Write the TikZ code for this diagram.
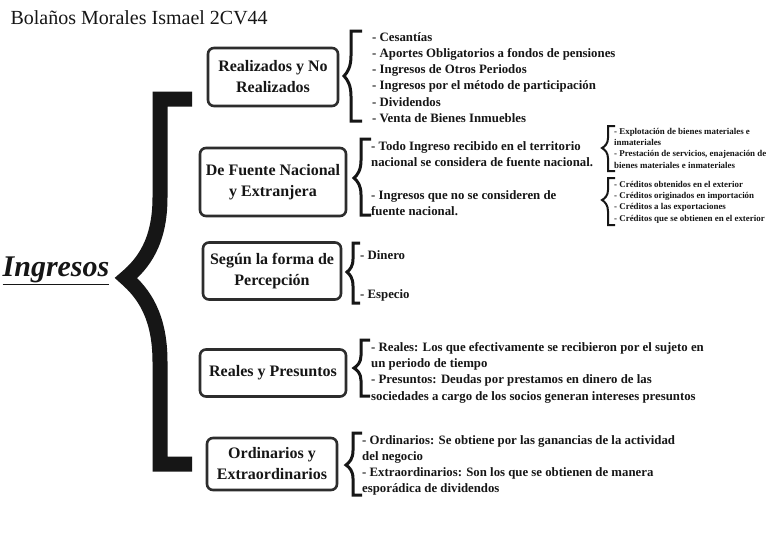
\documentclass[tikz,border=0pt]{standalone}
\usepackage{fontspec}
\setmainfont{Liberation Serif}
\usetikzlibrary{positioning}
\definecolor{boxgray}{RGB}{45,45,45}
\definecolor{inkblack}{RGB}{22,22,22}
\tikzstyle{caja} = [draw=boxgray, line width=2.6pt, rounded corners=6pt, align=center, inner sep=0pt, text=inkblack, font=\fontsize{16}{21}\selectfont\bfseries]
\tikzstyle{lista} = [anchor=north west, align=left, inner sep=0pt, text=inkblack, font=\fontsize{12.8}{16.3}\selectfont\bfseries]
\tikzstyle{sublista} = [lista, font=\fontsize{8.9}{11.3}\selectfont\bfseries]
\tikzstyle{llaveline} = [line width=3pt, color=inkblack]
% brace: [style]{tip x}{stem x}{end x}{top y}{tip y}{bottom y}
\newcommand{\llave}[7][]{%
  \draw[llaveline,#1] (#4,#5) -- (#3,#5) -- ({#3},{#6-0.45*(#6-#5)})
    .. controls ({#3},{#6-0.2*(#6-#5)}) and ({(#2+#3)/2},{#6-0.08*(#6-#5)}) .. (#2,#6)
    .. controls ({(#2+#3)/2},{#6+0.08*(#7-#6)}) and ({#3},{#6+0.2*(#7-#6)}) .. ({#3},{#6+0.45*(#7-#6)})
    -- (#3,#7) -- (#4,#7);}

\begin{document}
\begin{tikzpicture}[x=1pt, y=-1pt]
    \fill[white] (0,0) rectangle (768,544);
    \useasboundingbox (0,0) rectangle (768,544);

    % Title and main concept
    \node[anchor=west, text=inkblack, font=\fontsize{20}{20}\selectfont] (autor) at (7,18) {Bolaños Morales Ismael 2CV44};
    \node[text=inkblack, font=\fontsize{30}{30}\selectfont\bfseries\itshape] (ingresos) at (56,271) {\underline{Ingresos}};

    % Main bracket
    \llave[line width=15pt]{126}{160}{192}{99}{278}{464}

    % Categories
    \node[caja, minimum width=130pt, minimum height=58pt] (realizados) at (273,77) {Realizados y No\\Realizados};
    \node[caja, minimum width=146pt, minimum height=68pt] (fuente) at (273,182) {De Fuente Nacional\\y Extranjera};
    \node[caja, minimum width=138pt, minimum height=57pt] (percepcion) at (272,271) {Según la forma de\\Percepción};
    \node[caja, minimum width=146pt, minimum height=47pt] (presuntos) at (273,373) {Reales y Presuntos};
    \node[caja, minimum width=130pt, minimum height=52pt] (ordinarios) at (272,464) {Ordinarios y\\Extraordinarios};

    % Braces
    \llave{344}{351}{362}{31}{76}{121}
    \llave{354}{361}{371}{139}{178}{215}
    \llave{347}{353}{360}{243}{272}{303}
    \llave{354}{361}{370}{340}{368}{396}
    \llave{346}{353}{362}{433}{465}{495}
    \llave[line width=2pt]{602}{608}{615}{126}{148}{171}
    \llave[line width=2pt]{602}{608}{615}{178}{200}{225}

    % Lists
    \node[lista] (lrealizados) at (372,32) {- Cesantías\\- Aportes Obligatorios a fondos de pensiones\\- Ingresos de Otros Periodos\\- Ingresos por el método de participación\\- Dividendos\\- Venta de Bienes Inmuebles};
    \node[lista] (lnacional) at (371,141) {- Todo Ingreso recibido en el territorio\\nacional se considera de fuente nacional.};
    \node[lista] (lextranjera) at (371,190) {- Ingresos que no se consideren de\\fuente nacional.};
    \node[sublista] (lbienes) at (614,128) {- Explotación de bienes materiales e\\inmateriales\\- Prestación de servicios, enajenación de\\bienes materiales e inmateriales};
    \node[sublista] (lcreditos) at (614,181) {- Créditos obtenidos en el exterior\\- Créditos originados en importación\\- Créditos a las exportaciones\\- Créditos que se obtienen en el exterior};
    \node[lista] (ldinero) at (360,250) {- Dinero};
    \node[lista] (lespecio) at (360,289) {- Especio};
    \node[lista] (lreales) at (371,342) {- Reales: Los que efectivamente se recibieron por el sujeto en\\un periodo de tiempo\\- Presuntos: Deudas por prestamos en dinero de las\\sociedades a cargo de los socios generan intereses presuntos};
    \node[lista] (lordinarios) at (362,435) {- Ordinarios: Se obtiene por las ganancias de la actividad\\del negocio\\- Extraordinarios: Son los que se obtienen de manera\\esporádica de dividendos};
\end{tikzpicture}
\end{document}
